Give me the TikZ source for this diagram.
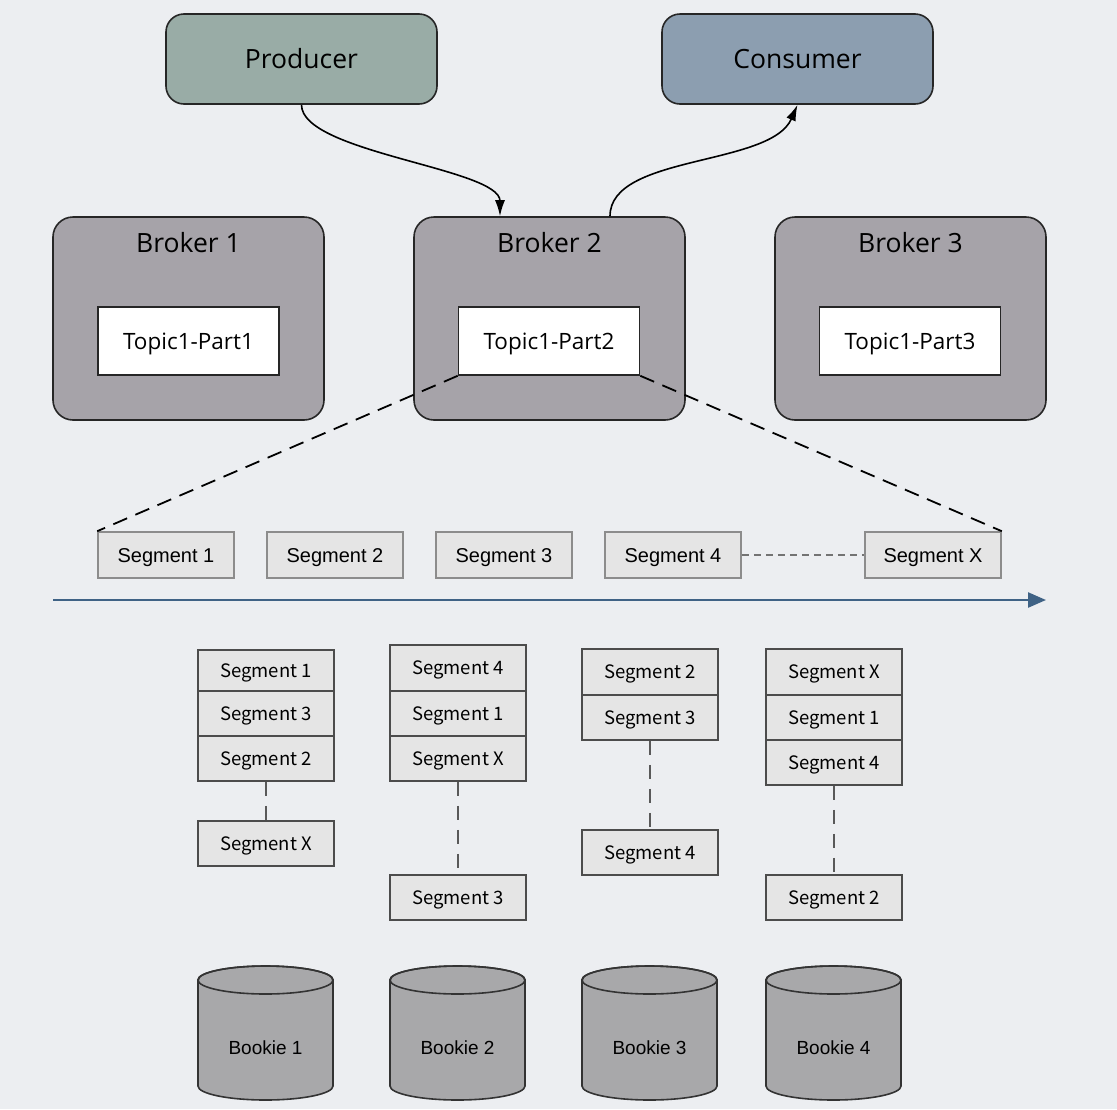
\documentclass[tikz,border=0pt]{standalone}
\usepackage{fontspec}
\setmainfont{Open Sans}
\newfontfamily\arialf{Liberation Sans}
\newfontfamily\cjkf{Noto Sans CJK SC}
\usetikzlibrary{arrows.meta,calc}
\definecolor{bgc}{HTML}{ECEEF1}
\definecolor{prodc}{HTML}{99ACA6}
\definecolor{consc}{HTML}{8C9EB0}
\definecolor{brokc}{HTML}{A6A3A9}
\definecolor{segc}{HTML}{E5E5E5}
\definecolor{bookc}{HTML}{A8A8AA}
\definecolor{bluec}{HTML}{3F6285}
\begin{document}
\begin{tikzpicture}[x=1pt,y=-1pt,
  topbox/.style={draw=black!85, line width=1.6pt, rounded corners=18pt, minimum width=271pt, minimum height=90pt, inner sep=0pt, text height=18.5pt, text depth=0pt, font=\fontsize{26.5}{30}\selectfont},
  brokerbox/.style={draw=black!85, fill=brokc, line width=1.6pt, rounded corners=20pt, minimum width=271pt, minimum height=203pt, inner sep=0pt},
  titletext/.style={inner sep=0pt, text height=18.5pt, text depth=0pt, font=\fontsize{26.5}{30}\selectfont},
  topicbox/.style={draw=black!85, fill=white, line width=1.6pt, minimum width=181pt, minimum height=68pt, inner sep=0pt, text height=16pt, text depth=0pt, font=\fontsize{22.5}{26}\selectfont},
  rowseg/.style={draw=black!45, fill=segc, line width=1.6pt, minimum width=136pt, minimum height=46pt, inner sep=0pt, text height=14.3pt, text depth=0pt, font=\arialf\fontsize{20}{24}\selectfont},
  stackseg/.style={draw=black!70, fill=segc, line width=1.6pt, minimum width=136pt, inner sep=0pt, text height=13.5pt, text depth=0pt, font=\cjkf\fontsize{18.5}{22}\selectfont},
  booktext/.style={inner sep=0pt, text height=13.6pt, text depth=0pt, font=\arialf\fontsize{19}{22}\selectfont},
  bigdash/.style={line width=1.8pt, dash pattern=on 15pt off 9pt},
  stackdash/.style={draw=black!65, line width=1.6pt, dash pattern=on 14pt off 10pt},
  flow/.style={line width=1.6pt, -{Latex[length=16pt,width=10pt]}}
]
\useasboundingbox (0,0) rectangle (1117,1109);
\fill[bgc] (0,0) rectangle (1117,1109);

% producer / consumer
\node[topbox, fill=prodc] (prod) at (301.5,59) {Producer};
\node[topbox, fill=consc] (cons) at (797.5,59) {Consumer};

% brokers
\node[brokerbox] (b1) at (188.5,318.5) {};
\node[brokerbox] (b2) at (549.5,318.5) {};
\node[brokerbox] (b3) at (910.5,318.5) {};
\node[titletext] (b1t) at (188.5,243) {Broker 1};
\node[titletext] (b2t) at (549.5,243) {Broker 2};
\node[titletext] (b3t) at (910.5,243) {Broker 3};
\node[topicbox] (t1) at (188.5,341) {Topic1-Part1};
\node[topicbox] (t2) at (549,341) {Topic1-Part2};
\node[topicbox] (t3) at (910,341) {Topic1-Part3};

% producer -> broker 2 -> consumer
\coordinate (b2in) at ($(b2.north)+(-49.5,0)$);
\coordinate (b2out) at ($(b2.north)+(60.5,0)$);
\draw[flow] (prod.south) .. controls +(0,48) and +(0,-48) .. (b2in);
\draw[flow] (b2out) .. controls +(0,-62) and +(-27,62) .. (cons.south);

% segment row
\node[rowseg] (s1) at (166,555) {Segment 1};
\node[rowseg] (s2) at (335,555) {Segment 2};
\node[rowseg] (s3) at (504,555) {Segment 3};
\node[rowseg] (s4) at (673,555) {Segment 4};
\node[rowseg] (sx) at (933,555) {Segment X};
\draw[draw=black!55, line width=1.8pt, dash pattern=on 7pt off 5pt] (s4.east) -- (sx.west);

% dashed zoom lines
\draw[bigdash] (t2.south west) -- (s1.north west);
\draw[bigdash] (t2.south east) -- (sx.north east);

% timeline
\coordinate (tl0) at (53,600);
\coordinate (tl1) at (1046,600);
\draw[draw=bluec, line width=2.4pt, -{Triangle[length=18pt,width=15pt]}] (tl0) -- (tl1);

% column 1
\node[stackseg, minimum height=41pt] (c1a) at (266,670.5) {Segment 1};
\node[stackseg, minimum height=45pt] (c1b) at (266,713.5) {Segment 3};
\node[stackseg, minimum height=45pt] (c1c) at (266,758.5) {Segment 2};
\node[stackseg, minimum height=45pt] (c1d) at (266,843.5) {Segment X};
\draw[stackdash] (c1c.south) -- (c1d.north);
% column 2
\node[stackseg, minimum height=46pt] (c2a) at (458,668) {Segment 4};
\node[stackseg, minimum height=45pt] (c2b) at (458,713.5) {Segment 1};
\node[stackseg, minimum height=45pt] (c2c) at (458,758.5) {Segment X};
\node[stackseg, minimum height=45pt] (c2d) at (458,897.5) {Segment 3};
\draw[stackdash] (c2c.south) -- (c2d.north);
% column 3
\node[stackseg, minimum height=46pt] (c3a) at (650,672) {Segment 2};
\node[stackseg, minimum height=45pt] (c3b) at (650,717.5) {Segment 3};
\node[stackseg, minimum height=45pt] (c3d) at (650,852.5) {Segment 4};
\draw[stackdash] (c3b.south) -- (c3d.north);
% column 4
\node[stackseg, minimum height=46pt] (c4a) at (834,672) {Segment X};
\node[stackseg, minimum height=45pt] (c4b) at (834,717.5) {Segment 1};
\node[stackseg, minimum height=45pt] (c4c) at (834,762.5) {Segment 4};
\node[stackseg, minimum height=45pt] (c4d) at (834,897.5) {Segment 2};
\draw[stackdash] (c4c.south) -- (c4d.north);

% bookies
\foreach \cx/\n in {265.5/1, 457.5/2, 649.5/3, 833.5/4} {
  \filldraw[fill=bookc, draw=black!80, line width=1.6pt]
    (\cx-67.5,980) -- (\cx-67.5,1086)
    arc[start angle=180, end angle=0, x radius=67.5, y radius=14]
    -- (\cx+67.5,980)
    arc[start angle=0, end angle=-180, x radius=67.5, y radius=14] -- cycle;
  \draw[black!80, line width=1.6pt] (\cx,980) ellipse[x radius=67.5, y radius=14];
  \node[booktext] (bk\n) at (\cx,1048) {Bookie \n};
}
\end{tikzpicture}
\end{document}
